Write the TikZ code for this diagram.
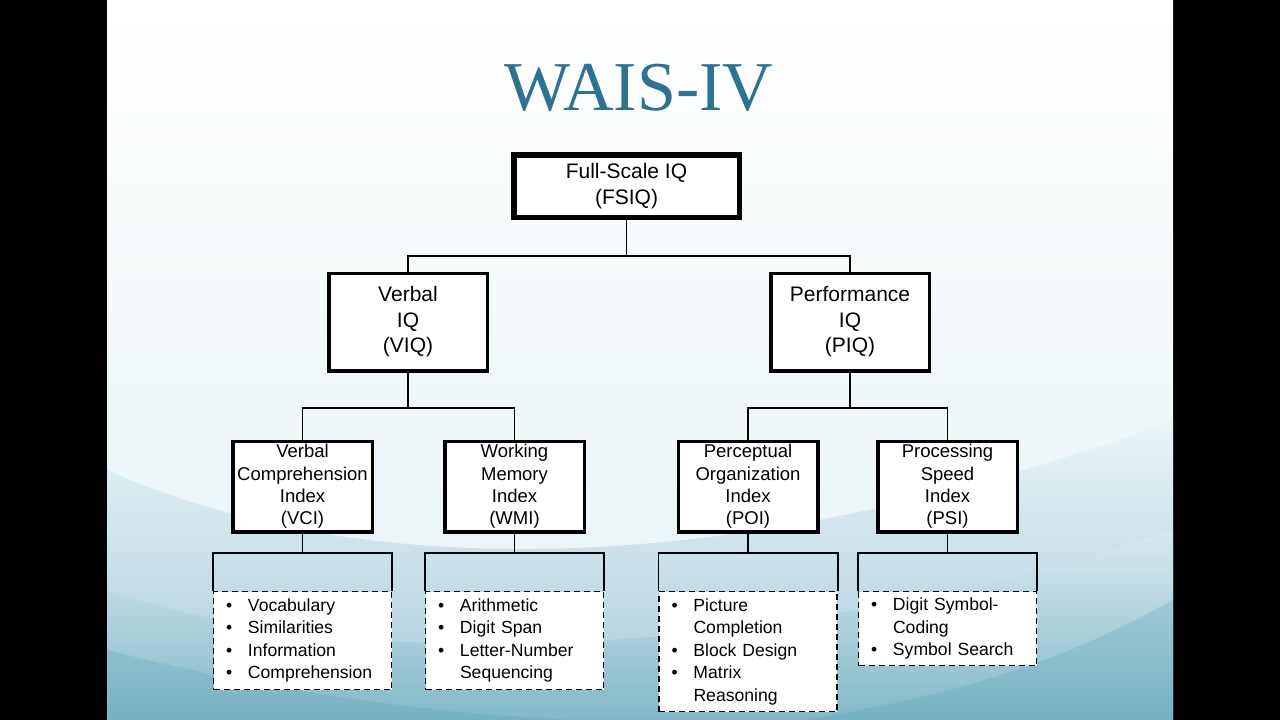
\documentclass[tikz,border=0pt]{standalone}
\usepackage{fontspec}
\setmainfont{Liberation Sans}
\newfontfamily\wstitlefont{Liberation Serif}
\usepackage{xcolor}
\usepackage{tikz}
\usetikzlibrary{calc}
\definecolor{wstitle}{RGB}{45,114,143}
\definecolor{wssea}{RGB}{88,160,182}
\definecolor{wspale}{RGB}{228,241,245}
\tikzset{
wsbox/.style={rectangle,draw,fill=white,align=center,inner sep=0pt},
wstop/.style={wsbox,line width=5.5pt,minimum width=225.5pt,minimum height=62.5pt,font=\fontsize{21}{25.5}\selectfont},
wsiq/.style={wsbox,line width=3.5pt,minimum width=158.5pt,minimum height=97.5pt,font=\fontsize{21}{25.5}\selectfont},
wsindex/.style={wsbox,line width=3.5pt,minimum width=139.5pt,minimum height=90.5pt,font=\fontsize{18.5}{22.3}\selectfont},
wslist/.style={rectangle,draw,dash pattern=on 6pt off 4pt,fill=white,line width=1.3pt,align=left,anchor=north,inner xsep=12pt,inner ysep=0pt,text width=153pt,minimum width=178pt,font=\fontsize{17.6}{22.5}\selectfont},
wsline/.style={line width=1.7pt},
wswave/.style={top color=wspale,bottom color=wssea}
}
\newcommand{\wsitem}[1]{\makebox[22pt][l]{\textbullet}#1}
\newcommand{\wsmore}[1]{\hspace*{22pt}#1}

\begin{document}
\begin{tikzpicture}[
x=1pt,
y=-1pt
]
\useasboundingbox (0,0) rectangle (1280,720);
% slide background
\fill[black] (0,0) rectangle (107,720);
\fill[black] (1173,0) rectangle (1280,720);
\fill[top color=white,bottom color=wspale] (107,0) rectangle (1173,720);
\shade[wswave,opacity=0.45] (107,470) .. controls (400,600) and (800,560) .. (1173,420) -- (1173,720) -- (107,720) -- cycle;
\shade[wswave,opacity=0.45] (107,590) .. controls (400,690) and (850,640) .. (1173,530) -- (1173,720) -- (107,720) -- cycle;
\fill[wssea,opacity=0.25] (107,650) .. controls (300,700) and (500,720) .. (600,720) -- (107,720) -- cycle;
\fill[wssea,opacity=0.25] (800,720) .. controls (1000,690) and (1100,640) .. (1173,600) -- (1173,720) -- cycle;
\node[font=\wstitlefont\fontsize{70}{76}\selectfont,text=wstitle,inner sep=0pt] (title) at (639,88) {WAIS-IV};
\node[wstop] (fsiq) at (626.5,186) {Full-Scale IQ\\(FSIQ)};
\node[wsiq] (viq) at (408,322) {Verbal\\IQ\\(VIQ)};
\node[wsiq] (piq) at (850,322) {Performance\\IQ\\(PIQ)};
\node[wsindex] (vci) at (302.5,486.5) {Verbal\\Comprehension\\Index\\(VCI)};
\node[wsindex] (wmi) at (514.5,486.5) {Working\\Memory\\Index\\(WMI)};
\node[wsindex] (poi) at (748,486.5) {Perceptual\\Organization\\Index\\(POI)};
\node[wsindex] (psi) at (947.5,486.5) {Processing\\Speed\\Index\\(PSI)};
\node[wslist,minimum height=98pt] (vcilist) at (302.5,591)
  {\wsitem{Vocabulary}\\\wsitem{Similarities}\\\wsitem{Information}\\\wsitem{Comprehension}};
\node[wslist,minimum height=98pt] (wmilist) at (514.5,591)
  {\wsitem{Arithmetic}\\\wsitem{Digit Span}\\\wsitem{Letter-Number}\\\wsmore{Sequencing}};
\node[wslist,minimum height=120pt] (poilist) at (748,591)
  {\wsitem{Picture}\\\wsmore{Completion}\\\wsitem{Block Design}\\\wsitem{Matrix}\\\wsmore{Reasoning}};
\node[wslist,minimum height=74pt] (psilist) at (947.5,591)
  {\wsitem{Digit Symbol-}\\\wsmore{Coding}\\\wsitem{Symbol Search}};
\coordinate (iqbus) at (626.5,256);
\coordinate (vbus) at (408,408);
\coordinate (pbus) at (850,408);
\coordinate (vcibar) at (302.5,553);
\coordinate (wmibar) at (514.5,553);
\coordinate (poibar) at (748,553);
\coordinate (psibar) at (947.5,553);
\draw[wsline] (fsiq.south)--(iqbus);
\draw[wsline] (viq.north) |- (iqbus) -| (piq.north);
\draw[wsline] (viq.south)--(vbus);
\draw[wsline] (vci.north) |- (vbus) -| (wmi.north);
\draw[wsline] (piq.south)--(pbus);
\draw[wsline] (poi.north) |- (pbus) -| (psi.north);
\draw[wsline] (vci.south)--(vcibar);
\draw[wsline] (wmi.south)--(wmibar);
\draw[wsline] (poi.south)--(poibar);
\draw[wsline] (psi.south)--(psibar);
\draw[wsline] (vcilist.north west) |- (vcibar) -| (vcilist.north east);
\draw[wsline] (wmilist.north west) |- (wmibar) -| (wmilist.north east);
\draw[wsline] (poilist.north west) |- (poibar) -| (poilist.north east);
\draw[wsline] (psilist.north west) |- (psibar) -| (psilist.north east);
\end{tikzpicture}
\end{document}
